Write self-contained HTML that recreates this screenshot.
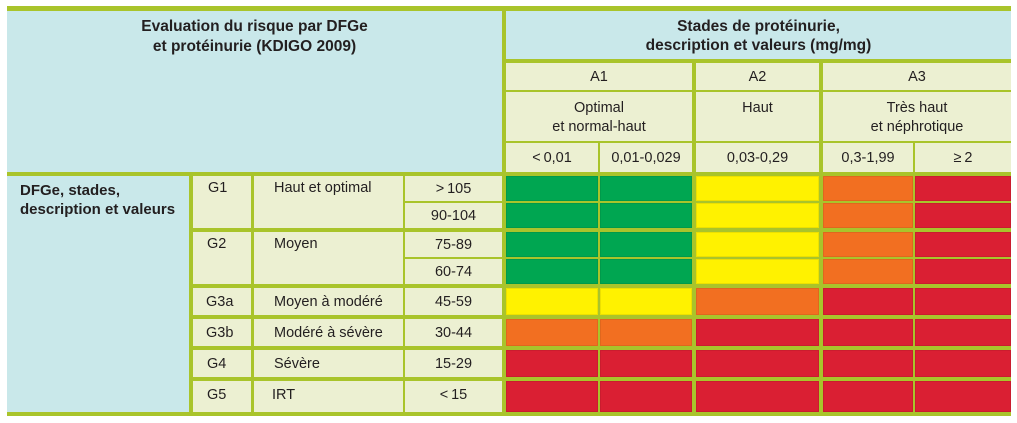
<!DOCTYPE html>
<html><head><meta charset="utf-8">
<style>
html,body{margin:0;padding:0;background:#fff;}
body{width:1017px;height:423px;position:relative;overflow:hidden;font-family:"Liberation Sans",sans-serif;color:#231f20;}
.bg{position:absolute;left:7px;top:6px;width:1004px;height:410px;background:#a9c42b;}
.c{position:absolute;box-sizing:border-box;}
.b{background:#c9e8ea;}
.k{background:#ecf0d2;}
.f{display:flex;align-items:center;justify-content:center;font-size:14.5px;}
.g{background:#00a651;}
.y{background:#fff200;}
.o{background:#f26f21;}
.r{background:#da1f33;}
.d{box-shadow:inset 0 0 0 1px rgba(0,0,0,0.07);}
.hd{font-weight:bold;font-size:15.5px;line-height:20px;text-align:center;}
.t{font-size:14.5px;line-height:19px;text-align:center;}
.l{font-size:14.5px;line-height:25px;}
</style></head><body>
<div class="bg"></div>

<!-- header left -->
<div class="c b hd" style="left:7px;top:11px;width:495px;height:161px;padding-top:6px;">Evaluation du risque par DFGe<br>et protéinurie (KDIGO 2009)</div>
<!-- header right -->
<div class="c b hd" style="left:506px;top:11px;width:505px;height:48px;padding-top:6px;line-height:19px;">Stades de protéinurie,<br>description et valeurs (mg/mg)</div>

<div class="c k f" style="left:506px;top:63px;width:186px;height:27px;">A1</div>
<div class="c k f" style="left:696px;top:63px;width:123px;height:27px;">A2</div>
<div class="c k f" style="left:823px;top:63px;width:188px;height:27px;">A3</div>

<div class="c k t" style="left:506px;top:92px;width:186px;height:49px;padding-top:7px;">Optimal<br>et normal-haut</div>
<div class="c k t" style="left:696px;top:92px;width:123px;height:49px;padding-top:7px;">Haut</div>
<div class="c k t" style="left:823px;top:92px;width:188px;height:49px;padding-top:7px;">Très haut<br>et néphrotique</div>

<div class="c k f" style="left:506px;top:143px;width:92px;height:29px;">&lt;&#8201;0,01</div>
<div class="c k f" style="left:600px;top:143px;width:92px;height:29px;">0,01-0,029</div>
<div class="c k f" style="left:696px;top:143px;width:123px;height:29px;">0,03-0,29</div>
<div class="c k f" style="left:823px;top:143px;width:90px;height:29px;">0,3-1,99</div>
<div class="c k f" style="left:915px;top:143px;width:96px;height:29px;">≥&#8201;2</div>

<!-- body left label -->
<div class="c b" style="left:7px;top:176px;width:182px;height:236px;padding:5px 0 0 13px;font-weight:bold;font-size:15px;line-height:19px;">DFGe, stades,<br>description et valeurs</div>

<!-- G column -->
<div class="c k l" style="left:193px;top:176px;width:58px;height:52px;padding-left:15px;">G1</div>
<div class="c k l" style="left:193px;top:232px;width:58px;height:52px;padding-left:14px;">G2</div>
<div class="c k f" style="left:193px;top:288px;width:58px;height:27px;justify-content:flex-start;padding-left:13px;">G3a</div>
<div class="c k f" style="left:193px;top:319px;width:58px;height:27px;justify-content:flex-start;padding-left:13px;">G3b</div>
<div class="c k f" style="left:193px;top:350px;width:58px;height:27px;justify-content:flex-start;padding-left:14px;">G4</div>
<div class="c k f" style="left:193px;top:381px;width:58px;height:31px;justify-content:flex-start;padding-left:14px;padding-bottom:4px;">G5</div>

<!-- description column -->
<div class="c k l" style="left:254px;top:176px;width:149px;height:52px;padding-left:20px;">Haut et optimal</div>
<div class="c k l" style="left:254px;top:232px;width:149px;height:52px;padding-left:20px;">Moyen</div>
<div class="c k f" style="left:254px;top:288px;width:149px;height:27px;justify-content:flex-start;padding-left:20px;">Moyen à modéré</div>
<div class="c k f" style="left:254px;top:319px;width:149px;height:27px;justify-content:flex-start;padding-left:20px;">Modéré à sévère</div>
<div class="c k f" style="left:254px;top:350px;width:149px;height:27px;justify-content:flex-start;padding-left:20px;">Sévère</div>
<div class="c k f" style="left:254px;top:381px;width:149px;height:31px;justify-content:flex-start;padding-left:18px;padding-bottom:4px;">IRT</div>

<!-- value column -->
<div class="c k f" style="left:405px;top:176px;width:97px;height:25px;">&gt;&#8201;105</div>
<div class="c k f" style="left:405px;top:203px;width:97px;height:25px;">90-104</div>
<div class="c k f" style="left:405px;top:232px;width:97px;height:25px;">75-89</div>
<div class="c k f" style="left:405px;top:259px;width:97px;height:25px;">60-74</div>
<div class="c k f" style="left:405px;top:288px;width:97px;height:27px;">45-59</div>
<div class="c k f" style="left:405px;top:319px;width:97px;height:27px;">30-44</div>
<div class="c k f" style="left:405px;top:350px;width:97px;height:27px;">15-29</div>
<div class="c k f" style="left:405px;top:381px;width:97px;height:31px;padding-bottom:4px;">&lt;&#8201;15</div>

<!-- data grid -->
<!-- row 1 -->
<div class="c d g" style="left:506px;top:176px;width:92px;height:25px;"></div>
<div class="c d g" style="left:600px;top:176px;width:92px;height:25px;"></div>
<div class="c d y" style="left:696px;top:176px;width:123px;height:25px;"></div>
<div class="c d o" style="left:823px;top:176px;width:90px;height:25px;"></div>
<div class="c d r" style="left:915px;top:176px;width:96px;height:25px;"></div>
<!-- row 2 -->
<div class="c d g" style="left:506px;top:203px;width:92px;height:25px;"></div>
<div class="c d g" style="left:600px;top:203px;width:92px;height:25px;"></div>
<div class="c d y" style="left:696px;top:203px;width:123px;height:25px;"></div>
<div class="c d o" style="left:823px;top:203px;width:90px;height:25px;"></div>
<div class="c d r" style="left:915px;top:203px;width:96px;height:25px;"></div>
<!-- row 3 -->
<div class="c d g" style="left:506px;top:232px;width:92px;height:25px;"></div>
<div class="c d g" style="left:600px;top:232px;width:92px;height:25px;"></div>
<div class="c d y" style="left:696px;top:232px;width:123px;height:25px;"></div>
<div class="c d o" style="left:823px;top:232px;width:90px;height:25px;"></div>
<div class="c d r" style="left:915px;top:232px;width:96px;height:25px;"></div>
<!-- row 4 -->
<div class="c d g" style="left:506px;top:259px;width:92px;height:25px;"></div>
<div class="c d g" style="left:600px;top:259px;width:92px;height:25px;"></div>
<div class="c d y" style="left:696px;top:259px;width:123px;height:25px;"></div>
<div class="c d o" style="left:823px;top:259px;width:90px;height:25px;"></div>
<div class="c d r" style="left:915px;top:259px;width:96px;height:25px;"></div>
<!-- row 5 -->
<div class="c d y" style="left:506px;top:288px;width:92px;height:27px;"></div>
<div class="c d y" style="left:600px;top:288px;width:92px;height:27px;"></div>
<div class="c d o" style="left:696px;top:288px;width:123px;height:27px;"></div>
<div class="c d r" style="left:823px;top:288px;width:90px;height:27px;"></div>
<div class="c d r" style="left:915px;top:288px;width:96px;height:27px;"></div>
<!-- row 6 -->
<div class="c d o" style="left:506px;top:319px;width:92px;height:27px;"></div>
<div class="c d o" style="left:600px;top:319px;width:92px;height:27px;"></div>
<div class="c d r" style="left:696px;top:319px;width:123px;height:27px;"></div>
<div class="c d r" style="left:823px;top:319px;width:90px;height:27px;"></div>
<div class="c d r" style="left:915px;top:319px;width:96px;height:27px;"></div>
<!-- row 7 -->
<div class="c d r" style="left:506px;top:350px;width:92px;height:27px;"></div>
<div class="c d r" style="left:600px;top:350px;width:92px;height:27px;"></div>
<div class="c d r" style="left:696px;top:350px;width:123px;height:27px;"></div>
<div class="c d r" style="left:823px;top:350px;width:90px;height:27px;"></div>
<div class="c d r" style="left:915px;top:350px;width:96px;height:27px;"></div>
<!-- row 8 -->
<div class="c d r" style="left:506px;top:381px;width:92px;height:31px;"></div>
<div class="c d r" style="left:600px;top:381px;width:92px;height:31px;"></div>
<div class="c d r" style="left:696px;top:381px;width:123px;height:31px;"></div>
<div class="c d r" style="left:823px;top:381px;width:90px;height:31px;"></div>
<div class="c d r" style="left:915px;top:381px;width:96px;height:31px;"></div>
</body></html>
